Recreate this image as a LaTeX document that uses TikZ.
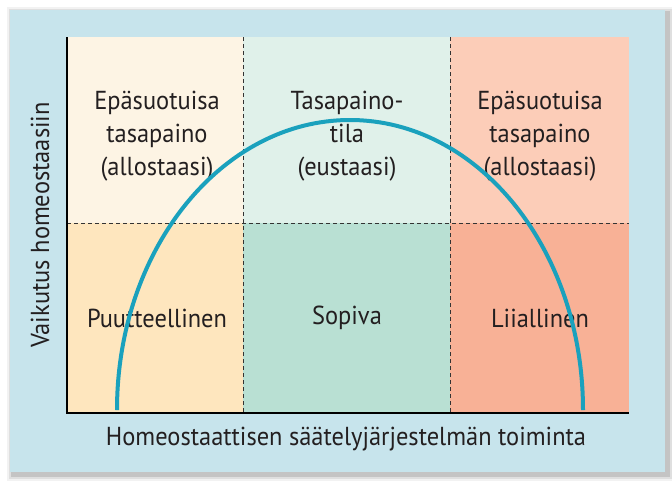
\documentclass[tikz,border=0pt]{standalone}
\usepackage{fontspec}
\setmainfont[FakeStretch=0.94]{PT Sans}
\definecolor{framebg}{HTML}{C7E4EC}
\definecolor{tl}{HTML}{FDF4E4}
\definecolor{tm}{HTML}{E0F1EA}
\definecolor{tr}{HTML}{FCCDB8}
\definecolor{bl}{HTML}{FEE6BE}
\definecolor{bm}{HTML}{B9E0D3}
\definecolor{br}{HTML}{F8B196}
\definecolor{curvec}{HTML}{1AA1BD}
\definecolor{txt}{HTML}{231F20}
\tikzset{
  lbl/.style={align=center, text=txt, font=\fontsize{26}{33}\selectfont, inner sep=0pt},
  divider/.style={draw=black!80, line width=0.9pt, dash pattern=on 4pt off 3pt},
  axisline/.style={draw=black, line width=2pt},
}
\begin{document}
\begin{tikzpicture}[x=1pt,y=-1pt]
\useasboundingbox (0,0) rectangle (672,480);
% shadow
\foreach \i/\o in {6/0.05,4/0.08,2/0.12}{
  \fill[black,opacity=\o] (10-\i+3,10-\i+3) rectangle (665+\i+3,472+\i+3);
}
\fill[framebg] (10,10) rectangle (665,472);
% panels
\fill[tl] (67,37) rectangle (243,223);
\fill[tm] (243,37) rectangle (450,223);
\fill[tr] (450,37) rectangle (629,223);
\fill[bl] (67,223) rectangle (243,413);
\fill[bm] (243,223) rectangle (450,413);
\fill[br] (450,223) rectangle (629,413);
% dividers
\coordinate (d1t) at (243,37); \coordinate (d1b) at (243,413);
\coordinate (d2t) at (450,37); \coordinate (d2b) at (450,413);
\coordinate (hl) at (67,223); \coordinate (hr) at (629,223);
\draw[divider] (d1t) -- (d1b);
\draw[divider] (d2t) -- (d2b);
\draw[divider] (hl) -- (hr);
% texts
\node[lbl] (t1) at (157,136) {Epäsuotuisa\\tasapaino\\(allostaasi)};
\node[lbl] (t2) at (347,136) {Tasapaino-\\tila\\(eustaasi)};
\node[lbl] (t3) at (540,136) {Epäsuotuisa\\tasapaino\\(allostaasi)};
\node[lbl] (b1) at (157,318) {Puutteellinen};
\node[lbl] (b2) at (347,318) {Sopiva};
\node[lbl] (b3) at (540,318) {Liiallinen};
% curve
\coordinate (cs) at (117,410);
\draw[curvec, line width=4pt] (cs) arc[start angle=180, end angle=0, x radius=233, y radius=-290];
% axes
\coordinate (o) at (67,413);
\coordinate (ytop) at (67,37);
\coordinate (xend) at (629,413);
\draw[axisline] (ytop) -- (o) -- (xend);
\node[lbl, rotate=90] (ylab) at (40,225) {Vaikutus homeostaasiin};
\node[lbl] (xlab) at (346,439) {Homeostaattisen säätelyjärjestelmän toiminta};
\end{tikzpicture}
\end{document}
